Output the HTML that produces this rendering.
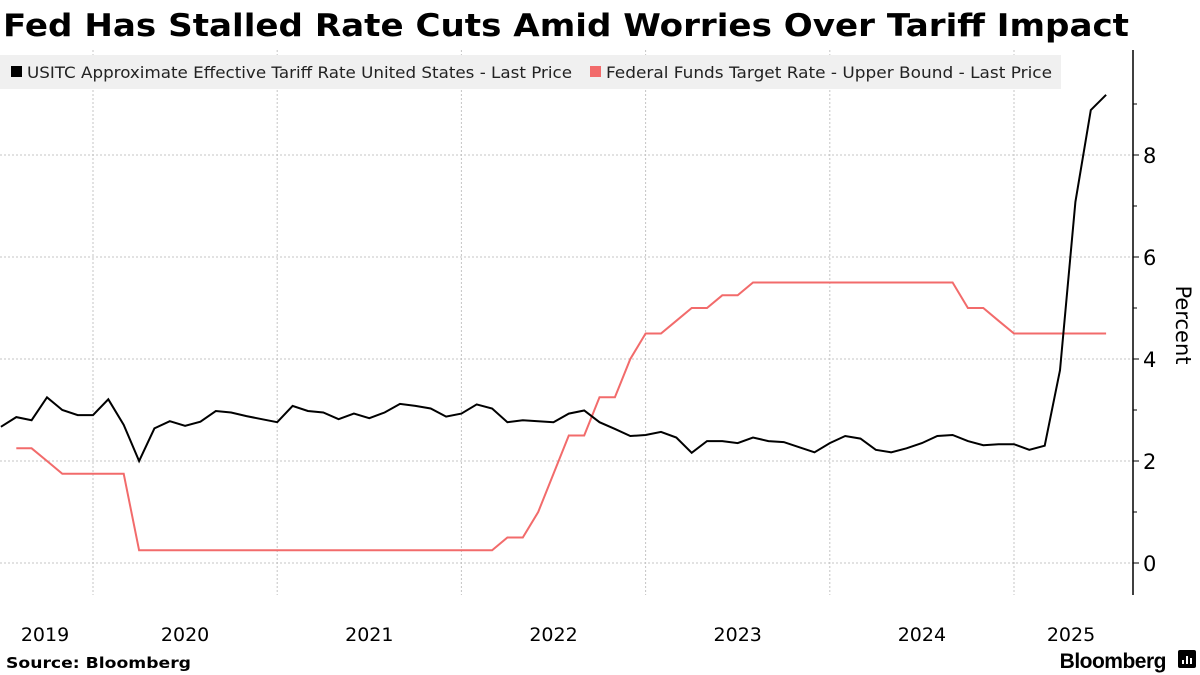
<!DOCTYPE html>
<html><head><meta charset="utf-8">
<style>
body{margin:0;background:#fff;font-family:"DejaVu Sans","Liberation Sans",sans-serif;}
#wrap{position:relative;width:1200px;height:675px;overflow:hidden;}
</style></head>
<body>
<div id="wrap">
<svg id="chart" width="1200" height="675" font-family="DejaVu Sans, Liberation Sans, sans-serif">
<text x="3" y="36" font-size="31" font-weight="bold" textLength="1126" lengthAdjust="spacingAndGlyphs">Fed Has Stalled Rate Cuts Amid Worries Over Tariff Impact</text>
<g id="grid"></g>
<g id="axis"></g>
<g id="xaxis"></g>
<g id="series"></g>
<g>
<rect x="0" y="55" width="1061" height="34" fill="#f0f0f0"/>
<rect x="11" y="66" width="11" height="11" fill="#000"/>
<text x="27" y="78" font-size="16" fill="#222" textLength="545" lengthAdjust="spacingAndGlyphs">USITC Approximate Effective Tariff Rate United States - Last Price</text>
<rect x="590" y="66" width="11" height="11" fill="#f26b6b"/>
<text x="606" y="78" font-size="16" fill="#222" textLength="446" lengthAdjust="spacingAndGlyphs">Federal Funds Target Rate - Upper Bound - Last Price</text>
</g>
<text transform="translate(1176,325) rotate(90)" text-anchor="middle" font-size="21">Percent</text>
<text x="6" y="668" font-size="15" font-weight="bold" textLength="185" lengthAdjust="spacingAndGlyphs">Source: Bloomberg</text>
<text x="1166" y="668" text-anchor="end" font-size="21" font-weight="bold" font-family="Liberation Sans, sans-serif" letter-spacing="-0.5">Bloomberg</text>
<rect x="1178" y="650" width="18" height="18" rx="2" fill="#000"/>
<path d="M1183 664v-4M1187 664v-8M1191 664v-6" stroke="#fff" stroke-width="2"/>
</svg>
</div>
<script>
const tariff=[2.67,2.86,2.80,3.25,3.0,2.90,2.90,3.21,2.71,2.0,2.64,2.78,2.69,2.77,2.98,2.95,2.88,2.82,2.76,3.08,2.98,2.95,2.82,2.93,2.84,2.95,3.12,3.08,3.03,2.87,2.93,3.11,3.03,2.76,2.80,2.78,2.76,2.93,2.99,2.76,2.63,2.49,2.51,2.57,2.46,2.16,2.39,2.39,2.35,2.46,2.39,2.37,2.27,2.17,2.35,2.49,2.44,2.22,2.17,2.25,2.35,2.49,2.51,2.39,2.31,2.33,2.33,2.22,2.30,3.78,7.08,8.88,9.18];
const fed=[null,2.25,2.25,2.0,1.75,1.75,1.75,1.75,1.75,0.25,0.25,0.25,0.25,0.25,0.25,0.25,0.25,0.25,0.25,0.25,0.25,0.25,0.25,0.25,0.25,0.25,0.25,0.25,0.25,0.25,0.25,0.25,0.25,0.5,0.5,1.0,1.75,2.5,2.5,3.25,3.25,4.0,4.5,4.5,4.75,5.0,5.0,5.25,5.25,5.5,5.5,5.5,5.5,5.5,5.5,5.5,5.5,5.5,5.5,5.5,5.5,5.5,5.5,5.0,5.0,4.75,4.5,4.5,4.5,4.5,4.5,4.5,4.5];
const yTicks=[0,2,4,6,8];
const years=["2019","2020","2021","2022","2023","2024","2025"];
const firstMonth=6;
const NS="http://www.w3.org/2000/svg";
const step=184.2/12, x0=93-184.2;
const X=i=>x0+(i+firstMonth)*step;
const Y=v=>563-51*v;
const axisX=1133;
function mk(tag,attrs,parent){const e=document.createElementNS(NS,tag);for(const k in attrs)e.setAttribute(k,attrs[k]);parent.appendChild(e);return e;}
const grid=document.getElementById('grid'),axis=document.getElementById('axis'),xaxis=document.getElementById('xaxis'),series=document.getElementById('series');
yTicks.forEach(t=>{
  const l=mk('line',{x1:0,x2:axisX,y1:Y(t),y2:Y(t),stroke:'#c4c4c4','stroke-dasharray':'2,2','stroke-width':1},grid);
  
  
  const tk=mk('line',{x1:axisX,x2:axisX+6,y1:Y(t),y2:Y(t),stroke:'#000'},axis);
  
  
  const tx=mk('text',{x:axisX+10,y:Y(t)+8,'font-size':21},axis);
  tx.textContent=t;
  
  
});
for(let v=1;v<=9;v+=2){
  const tk=mk('line',{x1:axisX,x2:axisX+4,y1:Y(v),y2:Y(v),stroke:'#000'},axis);
  
  
}
const al=mk('line',{x1:axisX,x2:axisX,y1:50,y2:595,stroke:'#000','stroke-width':1.5},axis);


years.forEach((y,k)=>{
  const gx=x0+k*184.2;
  if(k>0){
    const l=mk('line',{x1:gx,x2:gx,y1:50,y2:595,stroke:'#c4c4c4','stroke-dasharray':'2,2'},grid);
    
    
  }
  let cx=gx+92.1;
  if(k===0)cx=45; if(k===years.length-1)cx=1071;
  const t=mk('text',{x:cx,y:641,'font-size':19,'text-anchor':'middle'},xaxis);
  t.textContent=y;
  
  
});
function path(arr){let d='';arr.forEach((v,i)=>{if(v==null)return;d+=(d?'L':'M')+X(i).toFixed(1)+' '+Y(v).toFixed(1);});return d;}
const pf=mk('path',{d:path(fed),fill:'none',stroke:'#f26b6b','stroke-width':2},series);


const pt=mk('path',{d:path(tariff),fill:'none',stroke:'#000','stroke-width':2},series);


</script>
</body></html>
